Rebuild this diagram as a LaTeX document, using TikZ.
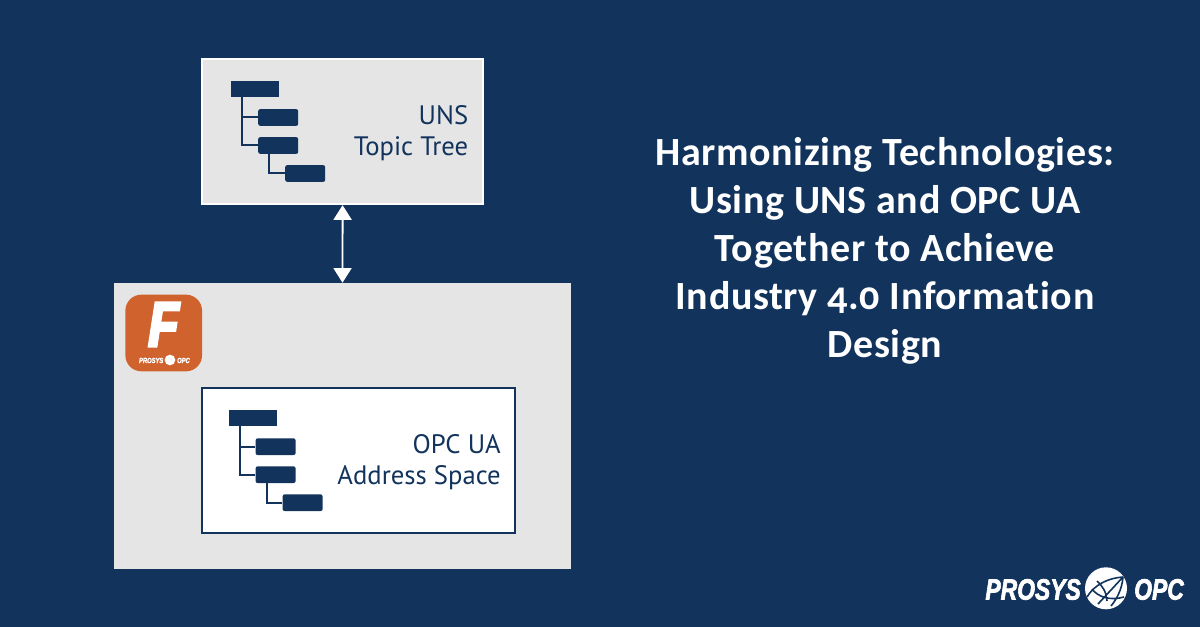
\documentclass[tikz,border=0pt]{standalone}
\usepackage{fontspec}
\setmainfont{Fira Sans}
\newfontfamily\headfont[Numbers=OldStyle,Ligatures=CommonOff,LetterSpace=1.6]{Carlito}
\newfontfamily\labelfont{PT Sans}
\newfontfamily\logofont[BoldItalicFeatures={FakeBold=2.6}]{Liberation Sans}
\newfontfamily\iconfont[BoldItalicFeatures={FakeBold=5}]{Liberation Sans}
\usetikzlibrary{positioning}
\usetikzlibrary{arrows.meta}
\definecolor{navy}{HTML}{11335C}
\definecolor{panel}{HTML}{E5E5E5}
\definecolor{rust}{HTML}{CF622D}
\tikzset{
	px/.style={x=0.75pt,y=-0.75pt},
	treeroot/.style={fill=navy,draw=none,minimum width=36pt,minimum height=12pt,inner sep=0pt},
	treeleaf/.style={fill=navy,draw=none,rounded corners=1.5pt,minimum width=30pt,minimum height=12.5pt,inner sep=0pt},
	treeline/.style={draw=navy,line width=1.5pt},
	boxlabel/.style={text=navy,align=right,anchor=east,font=\labelfont\fontsize{20}{23.5}\selectfont,inner sep=0pt},
	logotext/.style={text=white,font=\logofont\bfseries\itshape\fontsize{22}{22}\selectfont,inner sep=0pt,xscale=.78},
	icontext/.style={text=white,font=\logofont\bfseries\itshape\fontsize{5.6}{6}\selectfont,inner sep=0pt,xscale=.78},
	tree/.pic={
		\node[treeroot] (-root) at (0,0) {};
		\node[treeleaf] (-one) at (23,28.5) {};
		\node[treeleaf] (-two) at (23,56.5) {};
		\node[treeleaf] (-three) at (50,84.5) {};
		\path[treeline]
		([xshift=8.6pt]-root.south west) |- (-one.west)
		([xshift=8.6pt]-root.south west) |- (-two.west)
		([xshift=8.4pt]-two.south west) |- (-three.west);
	}
}
\begin{document}
\begin{tikzpicture}[px]
	\fill[navy] (0,0) rectangle (1200,627);
	\useasboundingbox (0,0) rectangle (1200,627);

	\node[fill=panel,draw=white,line width=1.5pt,minimum width=211.2pt,minimum height=109pt,inner sep=0pt] (uns) at (342.6,131.5) {};
	\node[fill=panel,minimum width=342.75pt,minimum height=214.5pt,inner sep=0pt] (prosys) at (342.5,426) {};
	\node[fill=white,draw=navy,line width=1.4pt,minimum width=234.5pt,minimum height=108.5pt,inner sep=0pt] (space) at (358.7,460.3) {};

	\draw[white,line width=1.4pt,{Triangle[width=13.5pt,length=11pt]}-{Triangle[width=13.5pt,length=11pt]}] (uns.south) -- (prosys.north);

	\pic (unstree) at (255.2,89) {tree};
	\pic (spacetree) at (252.6,418.2) {tree};

	\node[boxlabel] (unslabel) at (468.5,133) {UNS\\Topic Tree};
	\node[boxlabel] (spacelabel) at (501,462.5) {OPC UA\\Address Space};

	% product icon
	\node[fill=rust,rounded corners=12pt,minimum width=57.5pt,minimum height=57.5pt,inner sep=0pt] (icon) at (163.7,333) {};
	\node[text=white,font=\iconfont\bfseries\itshape\fontsize{47}{47}\selectfont,inner sep=0pt,xscale=.8] (iconf) at (163.5,324.5) {F};
	\node[icontext,anchor=east] (iconprosys) at (163.5,360.5) {PROSYS};
	\node[icontext,anchor=west] (iconopc) at (177,360.5) {OPC};
	\node[circle,fill=white,minimum size=8pt,inner sep=0pt] (iconglobe) at (170,360) {};

	% title
	\node[text=white,align=center,font=\headfont\bfseries\fontsize{30}{36}\selectfont,inner sep=0pt] (title) at (885,250.5) {Harmonizing Technologies:\\Using UNS and OPC UA\\Together to Achieve\\Industry 4.0 Information\\Design};

	% logo
	\node[logotext,anchor=east] (logoprosys) at (1081,589.5) {PROSYS};
	\node[logotext,anchor=west] (logoopc) at (1134,589.5) {OPC};
	\node[circle,fill=white,minimum size=31.5pt,inner sep=0pt] (logoglobe) at (1106,588.3) {};
	\draw[navy,line width=1.2pt] (1123,577) .. controls (1108,578) and (1094,585) .. (1087,597)
		(1123,577) .. controls (1122,590) and (1116,600) .. (1111,606)
		(1123,577) -- (1098,604)
		(1092,589) .. controls (1098,597) and (1110,601) .. (1124,597)
		(1097,581) .. controls (1103,587) and (1106,591) .. (1107,601);
\end{tikzpicture}
\end{document}
